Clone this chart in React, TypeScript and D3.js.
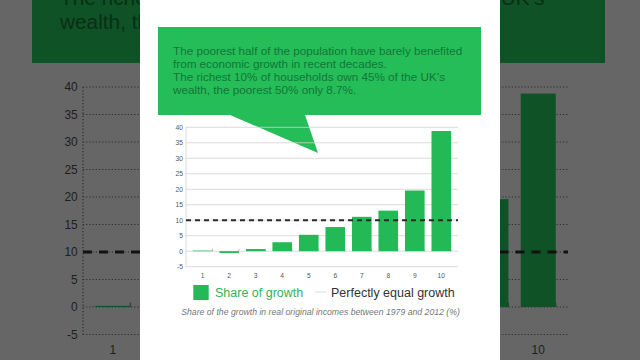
import React from "react";
import * as d3 from "d3";

const categories = ["1", "2", "3", "4", "5", "6", "7", "8", "9", "10"];
const shareOfGrowth = [0.2, -0.6, 0.7, 2.9, 5.3, 7.8, 11.1, 13.1, 19.6, 38.8];
const equalGrowth = 10;
const yTicks = [-5, 0, 5, 10, 15, 20, 25, 30, 35, 40];
const bubbleLines = [
  "The poorest half of the population have barely benefited",
  "from economic growth in recent decades.",
  "The richest 10% of households own 45% of the UK\u2019s",
  "wealth, the poorest 50% only 8.7%.",
];
const legendLabels = ["Share of growth", "Perfectly equal growth"];
const caption = "Share of the growth in real original incomes between 1979 and 2012 (%)";

const FONT = "'Liberation Sans', Arial, Helvetica, sans-serif";

type ChartProps = {
  left: number;
  right: number;
  yTop: number;
  yBottom: number;
  s: number;
  bg: boolean;
};

function Chart({ left, right, yTop, yBottom, s, bg }: ChartProps) {
  const x = d3.scaleBand<string>().domain(categories).range([left, right]).padding(0.26);
  const y = d3.scaleLinear().domain([-5, 40]).range([yBottom, yTop]);
  const step = x.step();
  const boundaries = d3.range(1, categories.length + 1).map((i) => left + i * step);
  const barColor = bg ? "#0f5226" : "#23b956";
  const gridColor = bg ? "#2e2e2e" : "#d2d2d2";
  const labelColor = bg ? "#1e1e1e" : "#555";
  return (
    <g>
      {yTicks.map((t) => (
        <line
          key={"g" + t}
          x1={left}
          x2={right}
          y1={y(t)}
          y2={y(t)}
          stroke={gridColor}
          strokeWidth={bg ? 1.2 : 0.8}
          strokeDasharray={bg ? "1.2,2" : undefined}
        />
      ))}
      <line
        x1={left}
        x2={left}
        y1={y(40)}
        y2={y(-5)}
        stroke={gridColor}
        strokeWidth={bg ? 1.2 : 0.8}
        strokeDasharray={bg ? "1.2,2" : undefined}
      />
      {yTicks.map((t) => (
        <text
          key={"l" + t}
          x={left - 3 * s}
          y={y(t)}
          dy="0.35em"
          textAnchor="end"
          fontSize={6.7 * s}
          fill={labelColor}
          fontFamily={FONT}
        >
          {t}
        </text>
      ))}
      {boundaries.map((b, i) => (
        <line
          key={"b" + i}
          x1={b}
          x2={b}
          y1={y(0)}
          y2={y(0) - 2.5 * s}
          stroke={bg ? "#222" : "#bbb"}
          strokeWidth={0.8}
        />
      ))}
      {shareOfGrowth.map((v, i) => (
        <rect
          key={"r" + i}
          x={x(categories[i])!}
          width={x.bandwidth()}
          y={Math.min(y(v), y(0))}
          height={Math.abs(y(v) - y(0))}
          fill={barColor}
        />
      ))}
      <line
        x1={left}
        x2={right}
        y1={y(equalGrowth)}
        y2={y(equalGrowth)}
        stroke={bg ? "#111" : "#2a2a2a"}
        strokeWidth={1.8 * s}
        strokeDasharray={`${5 * s},${4 * s}`}
      />
      {categories.map((c) => (
        <text
          key={"x" + c}
          x={x(c)! + x.bandwidth() / 2}
          y={yBottom + 10.8 * s}
          textAnchor="middle"
          fontSize={6.7 * s}
          fill={labelColor}
          fontFamily={FONT}
        >
          {c}
        </text>
      ))}
    </g>
  );
}

export default function App() {
  const k = 1.78;
  // foreground bubble geometry
  const bx0 = 158, bx1 = 481, by0 = 27, by1 = 115;
  const lineH = 13.3;
  const fs = 11.7;
  // background (magnified) geometry
  const gx0 = 32, gx1 = 605, gy1 = 63;
  const bgBase3 = 5;
  return (
    <svg
      width={640}
      height={360}
      style={{ position: "fixed", left: 0, top: 0, display: "block" }}
      fontFamily={FONT}
    >
      {/* background magnified, dimmed */}
      <rect x={0} y={0} width={640} height={360} fill="#666666" />
      <rect x={gx0} y={0} width={gx1 - gx0} height={gy1} fill="#0f5226" />
      {bubbleLines.slice(2).map((l, i) => (
        <text
          key={"bgt" + i}
          x={60}
          y={bgBase3 + i * lineH * k}
          fontSize={fs * k}
          fill="#0a2e17"
        >
          {l}
        </text>
      ))}
      <Chart left={83} right={568} yTop={87} yBottom={334.5} s={k} bg={true} />

      {/* foreground card */}
      <rect x={140} y={0} width={360} height={360} fill="#ffffff" />
      <path
        d={`M${bx0},${by0} H${bx1} V${by1} H305 L318,153 L230,${by1} H${bx0} Z`}
        fill="#25bd57"
      />
      {bubbleLines.map((l, i) => (
        <text key={"t" + i} x={173} y={54.5 + i * lineH} fontSize={fs} fill="#137639">
          {l}
        </text>
      ))}
      <Chart left={186} right={458} yTop={127.3} yBottom={266.7} s={1} bg={false} />

      {/* legend */}
      <rect x={193.3} y={285} width={15.4} height={15} fill="#23b956" />
      <text x={215} y={297} fontSize={12.5} fill="#2fb457">
        {legendLabels[0]}
      </text>
      <line x1={315} x2={326} y1={292} y2={292} stroke="#e6e6e6" strokeWidth={1.5} />
      <text x={331} y={297} fontSize={12.5} fill="#333">
        {legendLabels[1]}
      </text>
      <text
        x={320.5}
        y={315.3}
        textAnchor="middle"
        fontSize={8.7}
        fontStyle="italic"
        fill="#777"
      >
        {caption}
      </text>
    </svg>
  );
}
